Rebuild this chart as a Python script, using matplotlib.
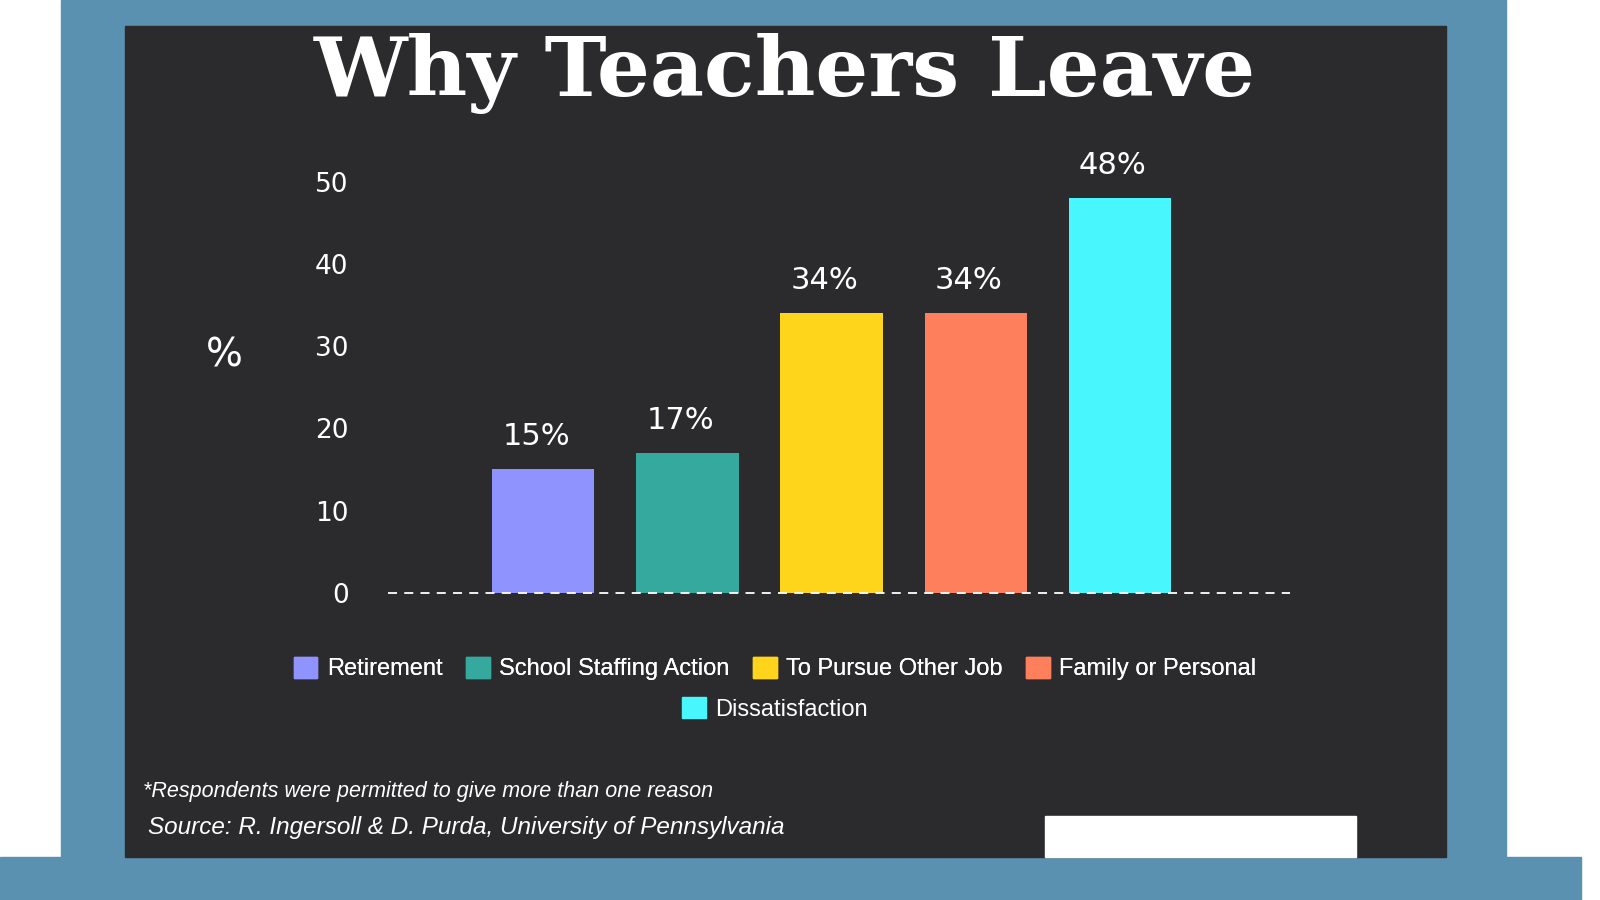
import matplotlib
matplotlib.use("Agg")
import matplotlib.pyplot as plt
from matplotlib.patches import Rectangle, Patch

categories = ["Retirement", "School Staffing Action", "To Pursue Other Job", "Family or Personal", "Dissatisfaction"]
values = [15, 17, 34, 34, 48]
labels = ["15%", "17%", "34%", "34%", "48%"]
colors = ["#8f93fd", "#35a99e", "#fed51b", "#fe7f5b", "#48f7fe"]
yticks = [0, 10, 20, 30, 40, 50]

W, H = 1569, 882
def fx(x): return x / W
def fy(y): return 1 - y / H

fig = plt.figure(figsize=(16, 9), dpi=100)
fig.patch.set_facecolor("white")
blue = "#5a90b0"
fig.add_artist(Rectangle((fx(60), fy(840)), fx(1477) - fx(60), fy(0) - fy(840), color=blue, transform=fig.transFigure, zorder=0))
fig.add_artist(Rectangle((0, 0), fx(1550), fy(840), color=blue, transform=fig.transFigure, zorder=0))
fig.add_artist(Rectangle((fx(123), fy(840)), fx(1418) - fx(123), fy(25) - fy(840), color="#2b2b2d", transform=fig.transFigure, zorder=0))
fig.add_artist(Rectangle((fx(1025), fy(840)), fx(1330) - fx(1025), fy(800) - fy(840), color="white", transform=fig.transFigure, zorder=1))

ax = fig.add_axes([fx(380), fy(581), fx(1265) - fx(380), fy(140) - fy(581)])
ax.set_facecolor("none")
x = list(range(len(values)))
ax.bar(x, values, width=0.71, color=colors, zorder=2)
ax.set_xlim(-1.08, 4 + 1.18)
ax.set_ylim(0, 441 / 8.06)
for xi, v, l in zip(x, values, labels):
    ax.text(xi - 0.05, v + 2.2, l, color="white", ha="center", va="bottom", fontsize=22, family="DejaVu Sans")
ax.axhline(0, color="white", ls="--", lw=1.3, dashes=(5, 4), clip_on=False)
for s in ax.spines.values():
    s.set_visible(False)
ax.set_xticks([])
ax.set_yticks(yticks)
ax.set_yticklabels([str(t) for t in yticks], color="white", fontsize=19)
ax.tick_params(axis="y", length=0, pad=28)

fig.text(fx(220), fy(348), "%", color="white", fontsize=28, ha="center", va="center")
fig.text(fx(770), fy(72), "Why Teachers Leave", color="white", fontsize=60, fontweight="bold",
         family="DejaVu Serif", ha="center", va="center")

h1 = [Patch(color=c) for c in colors[:4]]
leg1 = fig.legend(h1, categories[:4], loc="center", bbox_to_anchor=(fx(760), fy(655)), ncol=4, frameon=False,
                  labelcolor="white", handlelength=1, handleheight=1, handletextpad=0.4, columnspacing=1.0,
                  prop={"family": "Liberation Sans", "size": 17})
fig.add_artist(leg1)
fig.legend([Patch(color=colors[4])], categories[4:], loc="center", bbox_to_anchor=(fx(760), fy(695)), frameon=False,
           labelcolor="white", handlelength=1, handleheight=1, handletextpad=0.4,
           prop={"family": "Liberation Sans", "size": 17})

fig.text(fx(140), fy(776), "*Respondents were permitted to give more than one reason", color="white", fontsize=15.5,
         style="italic", family="Liberation Sans", va="center")
fig.text(fx(145), fy(811), "Source: R. Ingersoll & D. Purda, University of Pennsylvania", color="white", fontsize=17.5,
         style="italic", family="Liberation Sans", va="center")

fig.savefig("out.png", dpi=100, facecolor="white")
